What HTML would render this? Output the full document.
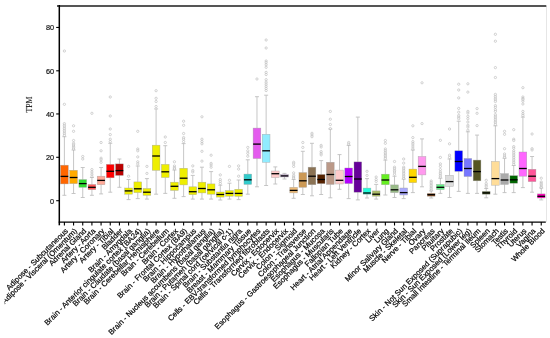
<!DOCTYPE html>
<html><head><meta charset="utf-8"><title>TPM boxplot</title>
<style>html,body{margin:0;padding:0;background:#fff}svg{display:block}text{font-family:"Liberation Sans",Arial,sans-serif}</style></head><body>
<svg width="550" height="338" viewBox="0 0 550 338">
<rect width="550" height="338" fill="#fff"/>
<line x1="546.5" y1="6" x2="546.5" y2="222" stroke="#e6e6e6" stroke-width="1"/>
<g stroke="#c0c0c0" stroke-width="0.9" fill="none"><path d="M64.40 136.7V165.2M64.40 183.9V195.3M62.40 136.7H66.40M62.40 195.3H66.40"/></g><g stroke="#a8a8a8" stroke-width="0.5" fill="#fff" fill-opacity="0.6"><circle cx="64.40" cy="51" r="1.15"/><circle cx="64.40" cy="104.3" r="1.15"/><circle cx="64.40" cy="123.6" r="1.15"/><circle cx="64.40" cy="125.3" r="1.15"/><circle cx="64.40" cy="127" r="1.15"/><circle cx="64.40" cy="128.7" r="1.15"/><circle cx="64.40" cy="130.4" r="1.15"/><circle cx="64.40" cy="132" r="1.15"/><circle cx="64.40" cy="133.7" r="1.15"/><circle cx="64.40" cy="135.4" r="1.15"/></g><rect x="60.55" y="165.2" width="7.7" height="18.7" fill="#FF6600" stroke="#999" stroke-opacity="0.7" stroke-width="0.5"/><line x1="60.55" y1="176.4" x2="68.25" y2="176.4" stroke="#000" stroke-width="1.3"/>
<g stroke="#c0c0c0" stroke-width="0.9" fill="none"><path d="M73.57 150V170.3M73.57 183.6V193.5M71.57 150H75.57M71.57 193.5H75.57"/></g><g stroke="#a8a8a8" stroke-width="0.5" fill="#fff" fill-opacity="0.6"><circle cx="73.57" cy="125.8" r="1.15"/><circle cx="73.57" cy="131.3" r="1.15"/><circle cx="73.57" cy="140.5" r="1.15"/><circle cx="73.57" cy="143.3" r="1.15"/><circle cx="73.57" cy="144.8" r="1.15"/><circle cx="73.57" cy="146.2" r="1.15"/><circle cx="73.57" cy="147.6" r="1.15"/><circle cx="73.57" cy="149" r="1.15"/></g><rect x="69.72" y="170.3" width="7.7" height="13.3" fill="#FFAA00" stroke="#999" stroke-opacity="0.7" stroke-width="0.5"/><line x1="69.72" y1="177.5" x2="77.42" y2="177.5" stroke="#000" stroke-width="1.3"/>
<g stroke="#c0c0c0" stroke-width="0.9" fill="none"><path d="M82.74 167.5V179.6M82.74 187.3V197.5M80.74 167.5H84.74M80.74 197.5H84.74"/></g><g stroke="#a8a8a8" stroke-width="0.5" fill="#fff" fill-opacity="0.6"><circle cx="82.74" cy="156.5" r="1.15"/><circle cx="82.74" cy="159" r="1.15"/></g><rect x="78.89" y="179.6" width="7.7" height="7.7" fill="#33DD33" stroke="#999" stroke-opacity="0.7" stroke-width="0.5"/><line x1="78.89" y1="183.6" x2="86.59" y2="183.6" stroke="#000" stroke-width="1.3"/>
<g stroke="#c0c0c0" stroke-width="0.9" fill="none"><path d="M91.91 177.5V184.5M91.91 189.6V195.3M89.91 177.5H93.91M89.91 195.3H93.91"/></g><g stroke="#a8a8a8" stroke-width="0.5" fill="#fff" fill-opacity="0.6"><circle cx="91.91" cy="113.3" r="1.15"/><circle cx="91.91" cy="169.6" r="1.15"/><circle cx="91.91" cy="172" r="1.15"/><circle cx="91.91" cy="174.2" r="1.15"/><circle cx="91.91" cy="176.2" r="1.15"/></g><rect x="88.06" y="184.5" width="7.7" height="5.1" fill="#FF5555" stroke="#999" stroke-opacity="0.7" stroke-width="0.5"/><line x1="88.06" y1="187.3" x2="95.76" y2="187.3" stroke="#000" stroke-width="1.3"/>
<g stroke="#c0c0c0" stroke-width="0.9" fill="none"><path d="M101.08 167.5V176.2M101.08 184.7V193.9M99.08 167.5H103.08M99.08 193.9H103.08"/></g><g stroke="#a8a8a8" stroke-width="0.5" fill="#fff" fill-opacity="0.6"><circle cx="101.08" cy="142.5" r="1.15"/><circle cx="101.08" cy="150.8" r="1.15"/><circle cx="101.08" cy="158.2" r="1.15"/><circle cx="101.08" cy="159.8" r="1.15"/><circle cx="101.08" cy="162.3" r="1.15"/></g><rect x="97.23" y="176.2" width="7.7" height="8.5" fill="#FFAA99" stroke="#999" stroke-opacity="0.7" stroke-width="0.5"/><line x1="97.23" y1="180.4" x2="104.93" y2="180.4" stroke="#000" stroke-width="1.3"/>
<g stroke="#c0c0c0" stroke-width="0.9" fill="none"><path d="M110.25 143.3V164.4M110.25 177.8V192.2M108.25 143.3H112.25M108.25 192.2H112.25"/></g><g stroke="#a8a8a8" stroke-width="0.5" fill="#fff" fill-opacity="0.6"><circle cx="110.25" cy="97" r="1.15"/><circle cx="110.25" cy="116" r="1.15"/><circle cx="110.25" cy="129" r="1.15"/><circle cx="110.25" cy="134.6" r="1.15"/><circle cx="110.25" cy="139.2" r="1.15"/><circle cx="110.25" cy="141.6" r="1.15"/></g><rect x="106.40" y="164.4" width="7.7" height="13.4" fill="#FF0000" stroke="#999" stroke-opacity="0.7" stroke-width="0.5"/><line x1="106.40" y1="171.3" x2="114.10" y2="171.3" stroke="#000" stroke-width="1.3"/>
<g stroke="#c0c0c0" stroke-width="0.9" fill="none"><path d="M119.42 159V163.9M119.42 175.4V187.3M117.42 159H121.42M117.42 187.3H121.42"/></g><rect x="115.57" y="163.9" width="7.7" height="11.5" fill="#BB0000" stroke="#999" stroke-opacity="0.7" stroke-width="0.5"/><line x1="115.57" y1="170.6" x2="123.27" y2="170.6" stroke="#000" stroke-width="1.3"/>
<g stroke="#c0c0c0" stroke-width="0.9" fill="none"><path d="M128.59 179.5V188M128.59 194.2V199.6M126.59 179.5H130.59M126.59 199.6H130.59"/></g><g stroke="#a8a8a8" stroke-width="0.5" fill="#fff" fill-opacity="0.6"><circle cx="128.59" cy="166.4" r="1.15"/><circle cx="128.59" cy="176.2" r="1.15"/></g><rect x="124.74" y="188" width="7.7" height="6.2" fill="#EEEE00" stroke="#999" stroke-opacity="0.7" stroke-width="0.5"/><line x1="124.74" y1="190.9" x2="132.44" y2="190.9" stroke="#000" stroke-width="1.3"/>
<g stroke="#c0c0c0" stroke-width="0.9" fill="none"><path d="M137.76 166V181.9M137.76 192.6V198.6M135.76 166H139.76M135.76 198.6H139.76"/></g><g stroke="#a8a8a8" stroke-width="0.5" fill="#fff" fill-opacity="0.6"><circle cx="137.76" cy="131.3" r="1.15"/><circle cx="137.76" cy="149" r="1.15"/><circle cx="137.76" cy="150.8" r="1.15"/><circle cx="137.76" cy="156.9" r="1.15"/><circle cx="137.76" cy="161.8" r="1.15"/><circle cx="137.76" cy="163.9" r="1.15"/></g><rect x="133.91" y="181.9" width="7.7" height="10.7" fill="#EEEE00" stroke="#999" stroke-opacity="0.7" stroke-width="0.5"/><line x1="133.91" y1="188.8" x2="141.61" y2="188.8" stroke="#000" stroke-width="1.3"/>
<g stroke="#c0c0c0" stroke-width="0.9" fill="none"><path d="M146.93 178.6V188.5M146.93 195.3V199.1M144.93 178.6H148.93M144.93 199.1H148.93"/></g><g stroke="#a8a8a8" stroke-width="0.5" fill="#fff" fill-opacity="0.6"><circle cx="146.93" cy="166.4" r="1.15"/><circle cx="146.93" cy="173.4" r="1.15"/></g><rect x="143.08" y="188.5" width="7.7" height="6.8" fill="#EEEE00" stroke="#999" stroke-opacity="0.7" stroke-width="0.5"/><line x1="143.08" y1="192.2" x2="150.78" y2="192.2" stroke="#000" stroke-width="1.3"/>
<g stroke="#c0c0c0" stroke-width="0.9" fill="none"><path d="M156.10 108.9V145.2M156.10 170.3V194.2M154.10 108.9H158.10M154.10 194.2H158.10"/></g><g stroke="#a8a8a8" stroke-width="0.5" fill="#fff" fill-opacity="0.6"><circle cx="156.10" cy="90.7" r="1.15"/><circle cx="156.10" cy="98.3" r="1.15"/><circle cx="156.10" cy="101.5" r="1.15"/><circle cx="156.10" cy="106.5" r="1.15"/></g><rect x="152.25" y="145.2" width="7.7" height="25.1" fill="#EEEE00" stroke="#999" stroke-opacity="0.7" stroke-width="0.5"/><line x1="152.25" y1="156" x2="159.95" y2="156" stroke="#000" stroke-width="1.3"/>
<g stroke="#c0c0c0" stroke-width="0.9" fill="none"><path d="M165.27 145.7V164.4M165.27 177.5V193.4M163.27 145.7H167.27M163.27 193.4H167.27"/></g><g stroke="#a8a8a8" stroke-width="0.5" fill="#fff" fill-opacity="0.6"><circle cx="165.27" cy="137" r="1.15"/><circle cx="165.27" cy="142.5" r="1.15"/></g><rect x="161.42" y="164.4" width="7.7" height="13.1" fill="#EEEE00" stroke="#999" stroke-opacity="0.7" stroke-width="0.5"/><line x1="161.42" y1="171.8" x2="169.12" y2="171.8" stroke="#000" stroke-width="1.3"/>
<g stroke="#c0c0c0" stroke-width="0.9" fill="none"><path d="M174.44 170V182.2M174.44 190.4V198.3M172.44 170H176.44M172.44 198.3H176.44"/></g><g stroke="#a8a8a8" stroke-width="0.5" fill="#fff" fill-opacity="0.6"><circle cx="174.44" cy="161.8" r="1.15"/><circle cx="174.44" cy="166" r="1.15"/><circle cx="174.44" cy="167.7" r="1.15"/><circle cx="174.44" cy="168.8" r="1.15"/></g><rect x="170.59" y="182.2" width="7.7" height="8.2" fill="#EEEE00" stroke="#999" stroke-opacity="0.7" stroke-width="0.5"/><line x1="170.59" y1="186.3" x2="178.29" y2="186.3" stroke="#000" stroke-width="1.3"/>
<g stroke="#c0c0c0" stroke-width="0.9" fill="none"><path d="M183.61 143.6V168.3M183.61 184.9V196.6M181.61 143.6H185.61M181.61 196.6H185.61"/></g><g stroke="#a8a8a8" stroke-width="0.5" fill="#fff" fill-opacity="0.6"><circle cx="183.61" cy="121.2" r="1.15"/><circle cx="183.61" cy="125.3" r="1.15"/><circle cx="183.61" cy="133.5" r="1.15"/><circle cx="183.61" cy="137.6" r="1.15"/><circle cx="183.61" cy="139.2" r="1.15"/><circle cx="183.61" cy="141.6" r="1.15"/></g><rect x="179.76" y="168.3" width="7.7" height="16.6" fill="#EEEE00" stroke="#999" stroke-opacity="0.7" stroke-width="0.5"/><line x1="179.76" y1="178.2" x2="187.46" y2="178.2" stroke="#000" stroke-width="1.3"/>
<g stroke="#c0c0c0" stroke-width="0.9" fill="none"><path d="M192.78 175.4V186.8M192.78 194.7V199.1M190.78 175.4H194.78M190.78 199.1H194.78"/></g><g stroke="#a8a8a8" stroke-width="0.5" fill="#fff" fill-opacity="0.6"><circle cx="192.78" cy="165.9" r="1.15"/><circle cx="192.78" cy="170.5" r="1.15"/><circle cx="192.78" cy="172" r="1.15"/></g><rect x="188.93" y="186.8" width="7.7" height="7.9" fill="#EEEE00" stroke="#999" stroke-opacity="0.7" stroke-width="0.5"/><line x1="188.93" y1="191.7" x2="196.63" y2="191.7" stroke="#000" stroke-width="1.3"/>
<g stroke="#c0c0c0" stroke-width="0.9" fill="none"><path d="M201.95 167.2V182.2M201.95 192.9V199.1M199.95 167.2H203.95M199.95 199.1H203.95"/></g><g stroke="#a8a8a8" stroke-width="0.5" fill="#fff" fill-opacity="0.6"><circle cx="201.95" cy="116.8" r="1.15"/><circle cx="201.95" cy="139.2" r="1.15"/><circle cx="201.95" cy="141.6" r="1.15"/><circle cx="201.95" cy="143.8" r="1.15"/><circle cx="201.95" cy="151.3" r="1.15"/><circle cx="201.95" cy="161.1" r="1.15"/></g><rect x="198.10" y="182.2" width="7.7" height="10.7" fill="#EEEE00" stroke="#999" stroke-opacity="0.7" stroke-width="0.5"/><line x1="198.10" y1="188.5" x2="205.80" y2="188.5" stroke="#000" stroke-width="1.3"/>
<g stroke="#c0c0c0" stroke-width="0.9" fill="none"><path d="M211.12 171.6V183.9M211.12 194.2V199.1M209.12 171.6H213.12M209.12 199.1H213.12"/></g><g stroke="#a8a8a8" stroke-width="0.5" fill="#fff" fill-opacity="0.6"><circle cx="211.12" cy="155.2" r="1.15"/><circle cx="211.12" cy="163.4" r="1.15"/><circle cx="211.12" cy="165" r="1.15"/><circle cx="211.12" cy="167.2" r="1.15"/></g><rect x="207.27" y="183.9" width="7.7" height="10.3" fill="#EEEE00" stroke="#999" stroke-opacity="0.7" stroke-width="0.5"/><line x1="207.27" y1="189.8" x2="214.97" y2="189.8" stroke="#000" stroke-width="1.3"/>
<g stroke="#c0c0c0" stroke-width="0.9" fill="none"><path d="M220.29 185.2V192M220.29 197.1V200M218.29 185.2H222.29M218.29 200H222.29"/></g><g stroke="#a8a8a8" stroke-width="0.5" fill="#fff" fill-opacity="0.6"><circle cx="220.29" cy="174.9" r="1.15"/><circle cx="220.29" cy="179.5" r="1.15"/><circle cx="220.29" cy="181.4" r="1.15"/><circle cx="220.29" cy="183.5" r="1.15"/></g><rect x="216.44" y="192" width="7.7" height="5.1" fill="#EEEE00" stroke="#999" stroke-opacity="0.7" stroke-width="0.5"/><line x1="216.44" y1="194.5" x2="224.14" y2="194.5" stroke="#000" stroke-width="1.3"/>
<g stroke="#c0c0c0" stroke-width="0.9" fill="none"><path d="M229.46 183.2V190.6M229.46 196.2V199.1M227.46 183.2H231.46M227.46 199.1H231.46"/></g><g stroke="#a8a8a8" stroke-width="0.5" fill="#fff" fill-opacity="0.6"><circle cx="229.46" cy="166.4" r="1.15"/><circle cx="229.46" cy="180.3" r="1.15"/></g><rect x="225.61" y="190.6" width="7.7" height="5.6" fill="#EEEE00" stroke="#999" stroke-opacity="0.7" stroke-width="0.5"/><line x1="225.61" y1="193.4" x2="233.31" y2="193.4" stroke="#000" stroke-width="1.3"/>
<g stroke="#c0c0c0" stroke-width="0.9" fill="none"><path d="M238.63 180V189.3M238.63 196.3V199.6M236.63 180H240.63M236.63 199.6H240.63"/></g><g stroke="#a8a8a8" stroke-width="0.5" fill="#fff" fill-opacity="0.6"><circle cx="238.63" cy="165.9" r="1.15"/><circle cx="238.63" cy="169.1" r="1.15"/><circle cx="238.63" cy="176.2" r="1.15"/></g><rect x="234.78" y="189.3" width="7.7" height="7.0" fill="#EEEE00" stroke="#999" stroke-opacity="0.7" stroke-width="0.5"/><line x1="234.78" y1="193.4" x2="242.48" y2="193.4" stroke="#000" stroke-width="1.3"/>
<g stroke="#c0c0c0" stroke-width="0.9" fill="none"><path d="M247.80 159.8V174.1M247.80 184.4V194.2M245.80 159.8H249.80M245.80 194.2H249.80"/></g><g stroke="#a8a8a8" stroke-width="0.5" fill="#fff" fill-opacity="0.6"><circle cx="247.80" cy="147.4" r="1.15"/><circle cx="247.80" cy="150.8" r="1.15"/><circle cx="247.80" cy="153.3" r="1.15"/><circle cx="247.80" cy="156.2" r="1.15"/></g><rect x="243.95" y="174.1" width="7.7" height="10.3" fill="#33CCCC" stroke="#999" stroke-opacity="0.7" stroke-width="0.5"/><line x1="243.95" y1="179.8" x2="251.65" y2="179.8" stroke="#000" stroke-width="1.3"/>
<g stroke="#c0c0c0" stroke-width="0.9" fill="none"><path d="M256.97 96.7V128.1M256.97 158.5V186.8M254.97 96.7H258.97M254.97 186.8H258.97"/></g><g stroke="#a8a8a8" stroke-width="0.5" fill="#fff" fill-opacity="0.6"><circle cx="256.97" cy="79" r="1.15"/></g><rect x="253.12" y="128.1" width="7.7" height="30.4" fill="#E45CEE" stroke="#999" stroke-opacity="0.7" stroke-width="0.5"/><line x1="253.12" y1="144.1" x2="260.82" y2="144.1" stroke="#000" stroke-width="1.3"/>
<g stroke="#c0c0c0" stroke-width="0.9" fill="none"><path d="M266.14 95.2V134.3M266.14 162.3V185.5M264.14 95.2H268.14M264.14 185.5H268.14"/></g><g stroke="#a8a8a8" stroke-width="0.5" fill="#fff" fill-opacity="0.6"><circle cx="266.14" cy="40" r="1.15"/><circle cx="266.14" cy="48" r="1.15"/><circle cx="266.14" cy="61" r="1.15"/><circle cx="266.14" cy="62.7" r="1.15"/><circle cx="266.14" cy="64.8" r="1.15"/><circle cx="266.14" cy="67.3" r="1.15"/><circle cx="266.14" cy="72.4" r="1.15"/><circle cx="266.14" cy="74.5" r="1.15"/><circle cx="266.14" cy="79.7" r="1.15"/><circle cx="266.14" cy="82.2" r="1.15"/><circle cx="266.14" cy="84.2" r="1.15"/><circle cx="266.14" cy="86.3" r="1.15"/><circle cx="266.14" cy="88.4" r="1.15"/><circle cx="266.14" cy="90.5" r="1.15"/></g><rect x="262.29" y="134.3" width="7.7" height="28.0" fill="#90ECFF" stroke="#999" stroke-opacity="0.7" stroke-width="0.5"/><line x1="262.29" y1="150.8" x2="269.99" y2="150.8" stroke="#000" stroke-width="1.3"/>
<g stroke="#c0c0c0" stroke-width="0.9" fill="none"><path d="M275.31 166.9V171M275.31 177.5V184M273.31 166.9H277.31M273.31 184H277.31"/></g><rect x="271.46" y="171" width="7.7" height="6.5" fill="#FFCCCC" stroke="#999" stroke-opacity="0.7" stroke-width="0.5"/><line x1="271.46" y1="173.7" x2="279.16" y2="173.7" stroke="#000" stroke-width="1.3"/>
<g stroke="#c0c0c0" stroke-width="0.9" fill="none"><path d="M284.48 173.4V174.5M284.48 177V179M282.48 173.4H286.48M282.48 179H286.48"/></g><rect x="280.63" y="174.5" width="7.7" height="2.5" fill="#CCAADD" stroke="#999" stroke-opacity="0.7" stroke-width="0.5"/><line x1="280.63" y1="175.9" x2="288.33" y2="175.9" stroke="#000" stroke-width="1.3"/>
<g stroke="#c0c0c0" stroke-width="0.9" fill="none"><path d="M293.65 179.5V187.3M293.65 192.9V198.3M291.65 179.5H295.65M291.65 198.3H295.65"/></g><g stroke="#a8a8a8" stroke-width="0.5" fill="#fff" fill-opacity="0.6"><circle cx="293.65" cy="162.3" r="1.15"/><circle cx="293.65" cy="163.9" r="1.15"/><circle cx="293.65" cy="166.4" r="1.15"/><circle cx="293.65" cy="172.9" r="1.15"/><circle cx="293.65" cy="175.4" r="1.15"/><circle cx="293.65" cy="177" r="1.15"/><circle cx="293.65" cy="178.2" r="1.15"/></g><rect x="289.80" y="187.3" width="7.7" height="5.6" fill="#EEBB77" stroke="#999" stroke-opacity="0.7" stroke-width="0.5"/><line x1="289.80" y1="190.4" x2="297.50" y2="190.4" stroke="#000" stroke-width="1.3"/>
<g stroke="#c0c0c0" stroke-width="0.9" fill="none"><path d="M302.82 151.3V172.6M302.82 187.3V194.5M300.82 151.3H304.82M300.82 194.5H304.82"/></g><g stroke="#a8a8a8" stroke-width="0.5" fill="#fff" fill-opacity="0.6"><circle cx="302.82" cy="142.5" r="1.15"/><circle cx="302.82" cy="147.4" r="1.15"/></g><rect x="298.97" y="172.6" width="7.7" height="14.7" fill="#CC9955" stroke="#999" stroke-opacity="0.7" stroke-width="0.5"/><line x1="298.97" y1="180.8" x2="306.67" y2="180.8" stroke="#000" stroke-width="1.3"/>
<g stroke="#c0c0c0" stroke-width="0.9" fill="none"><path d="M311.99 143.3V167.2M311.99 184.7V195.8M309.99 143.3H313.99M309.99 195.8H313.99"/></g><g stroke="#a8a8a8" stroke-width="0.5" fill="#fff" fill-opacity="0.6"><circle cx="311.99" cy="133.3" r="1.15"/><circle cx="311.99" cy="135" r="1.15"/><circle cx="311.99" cy="136.7" r="1.15"/></g><rect x="308.14" y="167.2" width="7.7" height="17.5" fill="#8B7355" stroke="#999" stroke-opacity="0.7" stroke-width="0.5"/><line x1="308.14" y1="176.2" x2="315.84" y2="176.2" stroke="#000" stroke-width="1.3"/>
<g stroke="#c0c0c0" stroke-width="0.9" fill="none"><path d="M321.16 160.6V174.5M321.16 183.6V194.5M319.16 160.6H323.16M319.16 194.5H323.16"/></g><g stroke="#a8a8a8" stroke-width="0.5" fill="#fff" fill-opacity="0.6"><circle cx="321.16" cy="145.4" r="1.15"/><circle cx="321.16" cy="147" r="1.15"/><circle cx="321.16" cy="151.6" r="1.15"/><circle cx="321.16" cy="153.3" r="1.15"/><circle cx="321.16" cy="154.9" r="1.15"/></g><rect x="317.31" y="174.5" width="7.7" height="9.1" fill="#552200" stroke="#999" stroke-opacity="0.7" stroke-width="0.5"/><line x1="317.31" y1="179.5" x2="325.01" y2="179.5" stroke="#000" stroke-width="1.3"/>
<g stroke="#c0c0c0" stroke-width="0.9" fill="none"><path d="M330.33 129V162.3M330.33 184.4V197.8M328.33 129H332.33M328.33 197.8H332.33"/></g><g stroke="#a8a8a8" stroke-width="0.5" fill="#fff" fill-opacity="0.6"><circle cx="330.33" cy="111.4" r="1.15"/><circle cx="330.33" cy="119.2" r="1.15"/><circle cx="330.33" cy="124.5" r="1.15"/><circle cx="330.33" cy="128.6" r="1.15"/></g><rect x="326.48" y="162.3" width="7.7" height="22.1" fill="#BB9988" stroke="#999" stroke-opacity="0.7" stroke-width="0.5"/><line x1="326.48" y1="174.5" x2="334.18" y2="174.5" stroke="#000" stroke-width="1.3"/>
<g stroke="#c0c0c0" stroke-width="0.9" fill="none"><path d="M339.50 154.6V170.1M339.50 184V189.3M337.50 154.6H341.50M337.50 189.3H341.50"/></g><rect x="335.65" y="170.1" width="7.7" height="13.9" fill="#FFCCCC" stroke="#999" stroke-opacity="0.7" stroke-width="0.5"/><line x1="335.65" y1="180.3" x2="343.35" y2="180.3" stroke="#000" stroke-width="1.3"/>
<g stroke="#c0c0c0" stroke-width="0.9" fill="none"><path d="M348.67 145.4V168M348.67 183.6V198.6M346.67 145.4H350.67M346.67 198.6H350.67"/></g><g stroke="#a8a8a8" stroke-width="0.5" fill="#fff" fill-opacity="0.6"><circle cx="348.67" cy="142.5" r="1.15"/><circle cx="348.67" cy="144.1" r="1.15"/></g><rect x="344.82" y="168" width="7.7" height="15.6" fill="#B400FF" stroke="#999" stroke-opacity="0.7" stroke-width="0.5"/><line x1="344.82" y1="176.5" x2="352.52" y2="176.5" stroke="#000" stroke-width="1.3"/>
<g stroke="#c0c0c0" stroke-width="0.9" fill="none"><path d="M357.84 117.1V161.9M357.84 192.2V199.9M355.84 117.1H359.84M355.84 199.9H359.84"/></g><rect x="353.99" y="161.9" width="7.7" height="30.3" fill="#660099" stroke="#999" stroke-opacity="0.7" stroke-width="0.5"/><line x1="353.99" y1="179" x2="361.69" y2="179" stroke="#000" stroke-width="1.3"/>
<g stroke="#c0c0c0" stroke-width="0.9" fill="none"><path d="M367.01 178.6V188.1M367.01 194.2V198M365.01 178.6H369.01M365.01 198H369.01"/></g><g stroke="#a8a8a8" stroke-width="0.5" fill="#fff" fill-opacity="0.6"><circle cx="367.01" cy="171.3" r="1.15"/><circle cx="367.01" cy="175.4" r="1.15"/></g><rect x="363.16" y="188.1" width="7.7" height="6.1" fill="#22FFDD" stroke="#999" stroke-opacity="0.7" stroke-width="0.5"/><line x1="363.16" y1="193" x2="370.86" y2="193" stroke="#000" stroke-width="1.3"/>
<g stroke="#c0c0c0" stroke-width="0.9" fill="none"><path d="M376.18 184.4V190.9M376.18 196.2V199.1M374.18 184.4H378.18M374.18 199.1H378.18"/></g><g stroke="#a8a8a8" stroke-width="0.5" fill="#fff" fill-opacity="0.6"><circle cx="376.18" cy="177" r="1.15"/><circle cx="376.18" cy="179.5" r="1.15"/><circle cx="376.18" cy="181.4" r="1.15"/></g><rect x="372.33" y="190.9" width="7.7" height="5.3" fill="#AABB66" stroke="#999" stroke-opacity="0.7" stroke-width="0.5"/><line x1="372.33" y1="194.2" x2="380.03" y2="194.2" stroke="#000" stroke-width="1.3"/>
<g stroke="#c0c0c0" stroke-width="0.9" fill="none"><path d="M385.35 160.1V174.2M385.35 184.7V195M383.35 160.1H387.35M383.35 195H387.35"/></g><g stroke="#a8a8a8" stroke-width="0.5" fill="#fff" fill-opacity="0.6"><circle cx="385.35" cy="140.5" r="1.15"/><circle cx="385.35" cy="143.3" r="1.15"/><circle cx="385.35" cy="149" r="1.15"/><circle cx="385.35" cy="150.8" r="1.15"/><circle cx="385.35" cy="152.5" r="1.15"/><circle cx="385.35" cy="154" r="1.15"/><circle cx="385.35" cy="155.5" r="1.15"/><circle cx="385.35" cy="157" r="1.15"/><circle cx="385.35" cy="158.5" r="1.15"/></g><rect x="381.50" y="174.2" width="7.7" height="10.5" fill="#66EE22" stroke="#999" stroke-opacity="0.7" stroke-width="0.5"/><line x1="381.50" y1="180" x2="389.20" y2="180" stroke="#000" stroke-width="1.3"/>
<g stroke="#c0c0c0" stroke-width="0.9" fill="none"><path d="M394.52 176.2V184.9M394.52 192.6V197.5M392.52 176.2H396.52M392.52 197.5H396.52"/></g><g stroke="#a8a8a8" stroke-width="0.5" fill="#fff" fill-opacity="0.6"><circle cx="394.52" cy="161.5" r="1.15"/><circle cx="394.52" cy="167.2" r="1.15"/><circle cx="394.52" cy="168.8" r="1.15"/><circle cx="394.52" cy="170.5" r="1.15"/><circle cx="394.52" cy="172" r="1.15"/><circle cx="394.52" cy="174.2" r="1.15"/></g><rect x="390.67" y="184.9" width="7.7" height="7.7" fill="#99BB88" stroke="#999" stroke-opacity="0.7" stroke-width="0.5"/><line x1="390.67" y1="189.8" x2="398.37" y2="189.8" stroke="#000" stroke-width="1.3"/>
<g stroke="#c0c0c0" stroke-width="0.9" fill="none"><path d="M403.69 179.1V188M403.69 195V198.6M401.69 179.1H405.69M401.69 198.6H405.69"/></g><g stroke="#a8a8a8" stroke-width="0.5" fill="#fff" fill-opacity="0.6"><circle cx="403.69" cy="159" r="1.15"/><circle cx="403.69" cy="163.1" r="1.15"/><circle cx="403.69" cy="167.2" r="1.15"/><circle cx="403.69" cy="168.8" r="1.15"/><circle cx="403.69" cy="170.4" r="1.15"/><circle cx="403.69" cy="172" r="1.15"/><circle cx="403.69" cy="173.6" r="1.15"/><circle cx="403.69" cy="175.2" r="1.15"/><circle cx="403.69" cy="176.8" r="1.15"/><circle cx="403.69" cy="178.4" r="1.15"/></g><rect x="399.84" y="188" width="7.7" height="7.0" fill="#AAAAFF" stroke="#999" stroke-opacity="0.7" stroke-width="0.5"/><line x1="399.84" y1="192.6" x2="407.54" y2="192.6" stroke="#000" stroke-width="1.3"/>
<g stroke="#c0c0c0" stroke-width="0.9" fill="none"><path d="M412.86 150V169.1M412.86 182.7V192.6M410.86 150H414.86M410.86 192.6H414.86"/></g><g stroke="#a8a8a8" stroke-width="0.5" fill="#fff" fill-opacity="0.6"><circle cx="412.86" cy="125.8" r="1.15"/><circle cx="412.86" cy="137.6" r="1.15"/><circle cx="412.86" cy="141.6" r="1.15"/><circle cx="412.86" cy="143.3" r="1.15"/><circle cx="412.86" cy="145" r="1.15"/><circle cx="412.86" cy="147" r="1.15"/><circle cx="412.86" cy="149" r="1.15"/></g><rect x="409.01" y="169.1" width="7.7" height="13.6" fill="#FFD700" stroke="#999" stroke-opacity="0.7" stroke-width="0.5"/><line x1="409.01" y1="177.3" x2="416.71" y2="177.3" stroke="#000" stroke-width="1.3"/>
<g stroke="#c0c0c0" stroke-width="0.9" fill="none"><path d="M422.03 138.9V156.5M422.03 174.9V186.8M420.03 138.9H424.03M420.03 186.8H424.03"/></g><g stroke="#a8a8a8" stroke-width="0.5" fill="#fff" fill-opacity="0.6"><circle cx="422.03" cy="82.8" r="1.15"/><circle cx="422.03" cy="123.6" r="1.15"/></g><rect x="418.18" y="156.5" width="7.7" height="18.4" fill="#FF99EE" stroke="#999" stroke-opacity="0.7" stroke-width="0.5"/><line x1="418.18" y1="166.4" x2="425.88" y2="166.4" stroke="#000" stroke-width="1.3"/>
<g stroke="#c0c0c0" stroke-width="0.9" fill="none"><path d="M431.20 190.9V193.4M431.20 196.2V198M429.20 190.9H433.20M429.20 198H433.20"/></g><g stroke="#a8a8a8" stroke-width="0.5" fill="#fff" fill-opacity="0.6"><circle cx="431.20" cy="181" r="1.15"/><circle cx="431.20" cy="182.5" r="1.15"/><circle cx="431.20" cy="184" r="1.15"/><circle cx="431.20" cy="185.5" r="1.15"/><circle cx="431.20" cy="187" r="1.15"/><circle cx="431.20" cy="188.5" r="1.15"/><circle cx="431.20" cy="190" r="1.15"/></g><rect x="427.35" y="193.4" width="7.7" height="2.8" fill="#995522" stroke="#999" stroke-opacity="0.7" stroke-width="0.5"/><line x1="427.35" y1="194.7" x2="435.05" y2="194.7" stroke="#000" stroke-width="1.3"/>
<g stroke="#c0c0c0" stroke-width="0.9" fill="none"><path d="M440.37 178.2V184.4M440.37 189.6V193.4M438.37 178.2H442.37M438.37 193.4H442.37"/></g><g stroke="#a8a8a8" stroke-width="0.5" fill="#fff" fill-opacity="0.6"><circle cx="440.37" cy="140.3" r="1.15"/><circle cx="440.37" cy="157.4" r="1.15"/><circle cx="440.37" cy="163.9" r="1.15"/><circle cx="440.37" cy="166.4" r="1.15"/><circle cx="440.37" cy="169.6" r="1.15"/><circle cx="440.37" cy="172.1" r="1.15"/><circle cx="440.37" cy="173.7" r="1.15"/><circle cx="440.37" cy="175.4" r="1.15"/><circle cx="440.37" cy="177" r="1.15"/></g><rect x="436.52" y="184.4" width="7.7" height="5.2" fill="#66EE88" stroke="#999" stroke-opacity="0.7" stroke-width="0.5"/><line x1="436.52" y1="187.3" x2="444.22" y2="187.3" stroke="#000" stroke-width="1.3"/>
<g stroke="#c0c0c0" stroke-width="0.9" fill="none"><path d="M449.54 159V175.4M449.54 186.3V197.5M447.54 159H451.54M447.54 197.5H451.54"/></g><g stroke="#a8a8a8" stroke-width="0.5" fill="#fff" fill-opacity="0.6"><circle cx="449.54" cy="129" r="1.15"/><circle cx="449.54" cy="143.8" r="1.15"/><circle cx="449.54" cy="155.2" r="1.15"/><circle cx="449.54" cy="157.4" r="1.15"/></g><rect x="445.69" y="175.4" width="7.7" height="10.9" fill="#DDDDDD" stroke="#999" stroke-opacity="0.7" stroke-width="0.5"/><line x1="445.69" y1="181.6" x2="453.39" y2="181.6" stroke="#000" stroke-width="1.3"/>
<g stroke="#c0c0c0" stroke-width="0.9" fill="none"><path d="M458.71 121.2V150.8M458.71 171.3V191.4M456.71 121.2H460.71M456.71 191.4H460.71"/></g><g stroke="#a8a8a8" stroke-width="0.5" fill="#fff" fill-opacity="0.6"><circle cx="458.71" cy="84.2" r="1.15"/><circle cx="458.71" cy="90" r="1.15"/><circle cx="458.71" cy="97.9" r="1.15"/><circle cx="458.71" cy="108.4" r="1.15"/><circle cx="458.71" cy="112.2" r="1.15"/><circle cx="458.71" cy="115.5" r="1.15"/><circle cx="458.71" cy="117.1" r="1.15"/><circle cx="458.71" cy="118.7" r="1.15"/></g><rect x="454.86" y="150.8" width="7.7" height="20.5" fill="#0000FF" stroke="#999" stroke-opacity="0.7" stroke-width="0.5"/><line x1="454.86" y1="161.5" x2="462.56" y2="161.5" stroke="#000" stroke-width="1.3"/>
<g stroke="#c0c0c0" stroke-width="0.9" fill="none"><path d="M467.88 131.8V158.5M467.88 176.5V193.4M465.88 131.8H469.88M465.88 193.4H469.88"/></g><g stroke="#a8a8a8" stroke-width="0.5" fill="#fff" fill-opacity="0.6"><circle cx="467.88" cy="83.8" r="1.15"/><circle cx="467.88" cy="92.1" r="1.15"/><circle cx="467.88" cy="111.4" r="1.15"/><circle cx="467.88" cy="113" r="1.15"/><circle cx="467.88" cy="116.3" r="1.15"/><circle cx="467.88" cy="118.7" r="1.15"/><circle cx="467.88" cy="122" r="1.15"/><circle cx="467.88" cy="125.3" r="1.15"/><circle cx="467.88" cy="127" r="1.15"/><circle cx="467.88" cy="130.2" r="1.15"/></g><rect x="464.03" y="158.5" width="7.7" height="18.0" fill="#7777FF" stroke="#999" stroke-opacity="0.7" stroke-width="0.5"/><line x1="464.03" y1="168.5" x2="471.73" y2="168.5" stroke="#000" stroke-width="1.3"/>
<g stroke="#c0c0c0" stroke-width="0.9" fill="none"><path d="M477.05 135.1V160.1M477.05 180.8V193.4M475.05 135.1H479.05M475.05 193.4H479.05"/></g><g stroke="#a8a8a8" stroke-width="0.5" fill="#fff" fill-opacity="0.6"><circle cx="477.05" cy="108.6" r="1.15"/><circle cx="477.05" cy="113.3" r="1.15"/><circle cx="477.05" cy="125.6" r="1.15"/></g><rect x="473.20" y="160.1" width="7.7" height="20.7" fill="#555522" stroke="#999" stroke-opacity="0.7" stroke-width="0.5"/><line x1="473.20" y1="171.6" x2="480.90" y2="171.6" stroke="#000" stroke-width="1.3"/>
<g stroke="#c0c0c0" stroke-width="0.9" fill="none"><path d="M486.22 188.5V191.4M486.22 194.2V197.8M484.22 188.5H488.22M484.22 197.8H488.22"/></g><g stroke="#a8a8a8" stroke-width="0.5" fill="#fff" fill-opacity="0.6"><circle cx="486.22" cy="180.3" r="1.15"/><circle cx="486.22" cy="183.5" r="1.15"/><circle cx="486.22" cy="185.2" r="1.15"/><circle cx="486.22" cy="186.8" r="1.15"/></g><rect x="482.37" y="191.4" width="7.7" height="2.8" fill="#445522" stroke="#999" stroke-opacity="0.7" stroke-width="0.5"/><line x1="482.37" y1="192.9" x2="490.07" y2="192.9" stroke="#000" stroke-width="1.3"/>
<g stroke="#c0c0c0" stroke-width="0.9" fill="none"><path d="M495.39 125.8V161.5M495.39 185.2V194.2M493.39 125.8H497.39M493.39 194.2H497.39"/></g><g stroke="#a8a8a8" stroke-width="0.5" fill="#fff" fill-opacity="0.6"><circle cx="495.39" cy="34.3" r="1.15"/><circle cx="495.39" cy="41.2" r="1.15"/><circle cx="495.39" cy="67.6" r="1.15"/><circle cx="495.39" cy="77.5" r="1.15"/><circle cx="495.39" cy="94.4" r="1.15"/><circle cx="495.39" cy="96.4" r="1.15"/><circle cx="495.39" cy="98.2" r="1.15"/><circle cx="495.39" cy="99.9" r="1.15"/><circle cx="495.39" cy="101.5" r="1.15"/><circle cx="495.39" cy="105.6" r="1.15"/><circle cx="495.39" cy="107.3" r="1.15"/><circle cx="495.39" cy="109.7" r="1.15"/><circle cx="495.39" cy="111.4" r="1.15"/><circle cx="495.39" cy="114.6" r="1.15"/><circle cx="495.39" cy="116.2" r="1.15"/><circle cx="495.39" cy="117.9" r="1.15"/><circle cx="495.39" cy="119.5" r="1.15"/><circle cx="495.39" cy="121.2" r="1.15"/><circle cx="495.39" cy="122.8" r="1.15"/><circle cx="495.39" cy="124.5" r="1.15"/></g><rect x="491.54" y="161.5" width="7.7" height="23.7" fill="#FFDD99" stroke="#999" stroke-opacity="0.7" stroke-width="0.5"/><line x1="491.54" y1="178.6" x2="499.24" y2="178.6" stroke="#000" stroke-width="1.3"/>
<g stroke="#c0c0c0" stroke-width="0.9" fill="none"><path d="M504.56 158.2V173.7M504.56 184.4V192.6M502.56 158.2H506.56M502.56 192.6H506.56"/></g><g stroke="#a8a8a8" stroke-width="0.5" fill="#fff" fill-opacity="0.6"><circle cx="504.56" cy="131.3" r="1.15"/><circle cx="504.56" cy="134.3" r="1.15"/><circle cx="504.56" cy="148.7" r="1.15"/><circle cx="504.56" cy="154" r="1.15"/><circle cx="504.56" cy="156" r="1.15"/><circle cx="504.56" cy="157.5" r="1.15"/></g><rect x="500.71" y="173.7" width="7.7" height="10.7" fill="#AAAAAA" stroke="#999" stroke-opacity="0.7" stroke-width="0.5"/><line x1="500.71" y1="180" x2="508.41" y2="180" stroke="#000" stroke-width="1.3"/>
<g stroke="#c0c0c0" stroke-width="0.9" fill="none"><path d="M513.73 165.5V175.7M513.73 183.2V192.6M511.73 165.5H515.73M511.73 192.6H515.73"/></g><g stroke="#a8a8a8" stroke-width="0.5" fill="#fff" fill-opacity="0.6"><circle cx="513.73" cy="129.7" r="1.15"/><circle cx="513.73" cy="139.2" r="1.15"/><circle cx="513.73" cy="140.5" r="1.15"/><circle cx="513.73" cy="146.6" r="1.15"/><circle cx="513.73" cy="148.2" r="1.15"/><circle cx="513.73" cy="150.8" r="1.15"/><circle cx="513.73" cy="152.5" r="1.15"/><circle cx="513.73" cy="154.2" r="1.15"/><circle cx="513.73" cy="155.9" r="1.15"/><circle cx="513.73" cy="157.6" r="1.15"/><circle cx="513.73" cy="159.3" r="1.15"/><circle cx="513.73" cy="161" r="1.15"/><circle cx="513.73" cy="162.7" r="1.15"/><circle cx="513.73" cy="164.4" r="1.15"/></g><rect x="509.88" y="175.7" width="7.7" height="7.5" fill="#006600" stroke="#999" stroke-opacity="0.7" stroke-width="0.5"/><line x1="509.88" y1="179.8" x2="517.58" y2="179.8" stroke="#000" stroke-width="1.3"/>
<g stroke="#c0c0c0" stroke-width="0.9" fill="none"><path d="M522.90 117.1V152M522.90 176.2V187.6M520.90 117.1H524.90M520.90 187.6H524.90"/></g><g stroke="#a8a8a8" stroke-width="0.5" fill="#fff" fill-opacity="0.6"><circle cx="522.90" cy="87.7" r="1.15"/><circle cx="522.90" cy="97" r="1.15"/><circle cx="522.90" cy="98.5" r="1.15"/><circle cx="522.90" cy="99.5" r="1.15"/><circle cx="522.90" cy="101.2" r="1.15"/><circle cx="522.90" cy="104" r="1.15"/><circle cx="522.90" cy="111.4" r="1.15"/><circle cx="522.90" cy="113.8" r="1.15"/><circle cx="522.90" cy="115.5" r="1.15"/></g><rect x="519.05" y="152" width="7.7" height="24.2" fill="#FF66FF" stroke="#999" stroke-opacity="0.7" stroke-width="0.5"/><line x1="519.05" y1="168.5" x2="526.75" y2="168.5" stroke="#000" stroke-width="1.3"/>
<g stroke="#c0c0c0" stroke-width="0.9" fill="none"><path d="M532.07 156.5V169.3M532.07 181.6V192.2M530.07 156.5H534.07M530.07 192.2H534.07"/></g><g stroke="#a8a8a8" stroke-width="0.5" fill="#fff" fill-opacity="0.6"><circle cx="532.07" cy="134" r="1.15"/><circle cx="532.07" cy="148.7" r="1.15"/><circle cx="532.07" cy="150" r="1.15"/></g><rect x="528.22" y="169.3" width="7.7" height="12.3" fill="#FF5599" stroke="#999" stroke-opacity="0.7" stroke-width="0.5"/><line x1="528.22" y1="176.2" x2="535.92" y2="176.2" stroke="#000" stroke-width="1.3"/>
<g stroke="#c0c0c0" stroke-width="0.9" fill="none"><path d="M541.24 188V193.9M541.24 198V199.9M539.24 188H543.24M539.24 199.9H543.24"/></g><g stroke="#a8a8a8" stroke-width="0.5" fill="#fff" fill-opacity="0.6"><circle cx="541.24" cy="178.2" r="1.15"/><circle cx="541.24" cy="182" r="1.15"/><circle cx="541.24" cy="183.4" r="1.15"/><circle cx="541.24" cy="184.8" r="1.15"/><circle cx="541.24" cy="186.2" r="1.15"/><circle cx="541.24" cy="187.6" r="1.15"/></g><rect x="537.39" y="193.9" width="7.7" height="4.1" fill="#FF00BB" stroke="#999" stroke-opacity="0.7" stroke-width="0.5"/><line x1="537.39" y1="196.3" x2="545.09" y2="196.3" stroke="#000" stroke-width="1.3"/>
<line x1="57" y1="6" x2="546.3" y2="6" stroke="#555" stroke-width="2"/>
<line x1="59.3" y1="5" x2="59.3" y2="225.3" stroke="#000" stroke-width="1.5"/>
<line x1="58.7" y1="222.1" x2="545.8" y2="222.1" stroke="#000" stroke-width="1.4"/>
<line x1="56.2" y1="200.7" x2="59" y2="200.7" stroke="#000" stroke-width="1.1"/>
<text x="54" y="203.55" font-size="7.9" text-anchor="end" textLength="4.05" lengthAdjust="spacingAndGlyphs" fill="#111" stroke="#111" stroke-width="0.2">0</text>
<line x1="56.2" y1="157.3" x2="59" y2="157.3" stroke="#000" stroke-width="1.1"/>
<text x="54" y="160.15" font-size="7.9" text-anchor="end" textLength="8.1" lengthAdjust="spacingAndGlyphs" fill="#111" stroke="#111" stroke-width="0.2">20</text>
<line x1="56.2" y1="113.95" x2="59" y2="113.95" stroke="#000" stroke-width="1.1"/>
<text x="54" y="116.80" font-size="7.9" text-anchor="end" textLength="8.1" lengthAdjust="spacingAndGlyphs" fill="#111" stroke="#111" stroke-width="0.2">40</text>
<line x1="56.2" y1="70.8" x2="59" y2="70.8" stroke="#000" stroke-width="1.1"/>
<text x="54" y="73.65" font-size="7.9" text-anchor="end" textLength="8.1" lengthAdjust="spacingAndGlyphs" fill="#111" stroke="#111" stroke-width="0.2">60</text>
<line x1="56.2" y1="27.45" x2="59" y2="27.45" stroke="#000" stroke-width="1.1"/>
<text x="54" y="30.30" font-size="7.9" text-anchor="end" textLength="8.1" lengthAdjust="spacingAndGlyphs" fill="#111" stroke="#111" stroke-width="0.2">80</text>
<defs><clipPath id="lc"><rect x="4.6" y="222" width="546" height="116"/></clipPath></defs><g clip-path="url(#lc)">
<line x1="64.40" y1="222" x2="64.40" y2="225.4" stroke="#000" stroke-width="1.1"/>
<text transform="translate(68.40 231.50) rotate(-45)" font-size="7.7" text-anchor="end" fill="#000" stroke="#000" stroke-width="0.2">Adipose - Subcutaneous</text>
<line x1="73.57" y1="222" x2="73.57" y2="225.4" stroke="#000" stroke-width="1.1"/>
<text transform="translate(77.57 231.50) rotate(-45)" font-size="7.7" text-anchor="end" fill="#000" stroke="#000" stroke-width="0.2">Adipose - Visceral (Omentum)</text>
<line x1="82.74" y1="222" x2="82.74" y2="225.4" stroke="#000" stroke-width="1.1"/>
<text transform="translate(86.74 231.50) rotate(-45)" font-size="7.7" text-anchor="end" fill="#000" stroke="#000" stroke-width="0.2">Adrenal Gland</text>
<line x1="91.91" y1="222" x2="91.91" y2="225.4" stroke="#000" stroke-width="1.1"/>
<text transform="translate(95.91 231.50) rotate(-45)" font-size="7.7" text-anchor="end" fill="#000" stroke="#000" stroke-width="0.2">Artery - Aorta</text>
<line x1="101.08" y1="222" x2="101.08" y2="225.4" stroke="#000" stroke-width="1.1"/>
<text transform="translate(105.08 231.50) rotate(-45)" font-size="7.7" text-anchor="end" fill="#000" stroke="#000" stroke-width="0.2">Artery - Coronary</text>
<line x1="110.25" y1="222" x2="110.25" y2="225.4" stroke="#000" stroke-width="1.1"/>
<text transform="translate(114.25 231.50) rotate(-45)" font-size="7.7" text-anchor="end" fill="#000" stroke="#000" stroke-width="0.2">Artery - Tibial</text>
<line x1="119.42" y1="222" x2="119.42" y2="225.4" stroke="#000" stroke-width="1.1"/>
<text transform="translate(123.42 231.50) rotate(-45)" font-size="7.7" text-anchor="end" fill="#000" stroke="#000" stroke-width="0.2">Bladder</text>
<line x1="128.59" y1="222" x2="128.59" y2="225.4" stroke="#000" stroke-width="1.1"/>
<text transform="translate(132.59 231.50) rotate(-45)" font-size="7.7" text-anchor="end" fill="#000" stroke="#000" stroke-width="0.2">Brain - Amygdala</text>
<line x1="137.76" y1="222" x2="137.76" y2="225.4" stroke="#000" stroke-width="1.1"/>
<text transform="translate(141.76 231.50) rotate(-45)" font-size="7.7" text-anchor="end" fill="#000" stroke="#000" stroke-width="0.2">Brain - Anterior cingulate cortex (BA24)</text>
<line x1="146.93" y1="222" x2="146.93" y2="225.4" stroke="#000" stroke-width="1.1"/>
<text transform="translate(150.93 231.50) rotate(-45)" font-size="7.7" text-anchor="end" fill="#000" stroke="#000" stroke-width="0.2">Brain - Caudate (basal ganglia)</text>
<line x1="156.10" y1="222" x2="156.10" y2="225.4" stroke="#000" stroke-width="1.1"/>
<text transform="translate(160.10 231.50) rotate(-45)" font-size="7.7" text-anchor="end" fill="#000" stroke="#000" stroke-width="0.2">Brain - Cerebellar Hemisphere</text>
<line x1="165.27" y1="222" x2="165.27" y2="225.4" stroke="#000" stroke-width="1.1"/>
<text transform="translate(169.27 231.50) rotate(-45)" font-size="7.7" text-anchor="end" fill="#000" stroke="#000" stroke-width="0.2">Brain - Cerebellum</text>
<line x1="174.44" y1="222" x2="174.44" y2="225.4" stroke="#000" stroke-width="1.1"/>
<text transform="translate(178.44 231.50) rotate(-45)" font-size="7.7" text-anchor="end" fill="#000" stroke="#000" stroke-width="0.2">Brain - Cortex</text>
<line x1="183.61" y1="222" x2="183.61" y2="225.4" stroke="#000" stroke-width="1.1"/>
<text transform="translate(187.61 231.50) rotate(-45)" font-size="7.7" text-anchor="end" fill="#000" stroke="#000" stroke-width="0.2">Brain - Frontal Cortex (BA9)</text>
<line x1="192.78" y1="222" x2="192.78" y2="225.4" stroke="#000" stroke-width="1.1"/>
<text transform="translate(196.78 231.50) rotate(-45)" font-size="7.7" text-anchor="end" fill="#000" stroke="#000" stroke-width="0.2">Brain - Hippocampus</text>
<line x1="201.95" y1="222" x2="201.95" y2="225.4" stroke="#000" stroke-width="1.1"/>
<text transform="translate(205.95 231.50) rotate(-45)" font-size="7.7" text-anchor="end" fill="#000" stroke="#000" stroke-width="0.2">Brain - Hypothalamus</text>
<line x1="211.12" y1="222" x2="211.12" y2="225.4" stroke="#000" stroke-width="1.1"/>
<text transform="translate(215.12 231.50) rotate(-45)" font-size="7.7" text-anchor="end" fill="#000" stroke="#000" stroke-width="0.2">Brain - Nucleus accumbens (basal ganglia)</text>
<line x1="220.29" y1="222" x2="220.29" y2="225.4" stroke="#000" stroke-width="1.1"/>
<text transform="translate(224.29 231.50) rotate(-45)" font-size="7.7" text-anchor="end" fill="#000" stroke="#000" stroke-width="0.2">Brain - Putamen (basal ganglia)</text>
<line x1="229.46" y1="222" x2="229.46" y2="225.4" stroke="#000" stroke-width="1.1"/>
<text transform="translate(233.46 231.50) rotate(-45)" font-size="7.7" text-anchor="end" fill="#000" stroke="#000" stroke-width="0.2">Brain - Spinal cord (cervical c-1)</text>
<line x1="238.63" y1="222" x2="238.63" y2="225.4" stroke="#000" stroke-width="1.1"/>
<text transform="translate(242.63 231.50) rotate(-45)" font-size="7.7" text-anchor="end" fill="#000" stroke="#000" stroke-width="0.2">Brain - Substantia nigra</text>
<line x1="247.80" y1="222" x2="247.80" y2="225.4" stroke="#000" stroke-width="1.1"/>
<text transform="translate(251.80 231.50) rotate(-45)" font-size="7.7" text-anchor="end" fill="#000" stroke="#000" stroke-width="0.2">Breast - Mammary Tissue</text>
<line x1="256.97" y1="222" x2="256.97" y2="225.4" stroke="#000" stroke-width="1.1"/>
<text transform="translate(260.97 231.50) rotate(-45)" font-size="7.7" text-anchor="end" fill="#000" stroke="#000" stroke-width="0.2">Cells - EBV-transformed lymphocytes</text>
<line x1="266.14" y1="222" x2="266.14" y2="225.4" stroke="#000" stroke-width="1.1"/>
<text transform="translate(270.14 231.50) rotate(-45)" font-size="7.7" text-anchor="end" fill="#000" stroke="#000" stroke-width="0.2">Cells - Transformed fibroblasts</text>
<line x1="275.31" y1="222" x2="275.31" y2="225.4" stroke="#000" stroke-width="1.1"/>
<text transform="translate(279.31 231.50) rotate(-45)" font-size="7.7" text-anchor="end" fill="#000" stroke="#000" stroke-width="0.2">Cervix - Ectocervix</text>
<line x1="284.48" y1="222" x2="284.48" y2="225.4" stroke="#000" stroke-width="1.1"/>
<text transform="translate(288.48 231.50) rotate(-45)" font-size="7.7" text-anchor="end" fill="#000" stroke="#000" stroke-width="0.2">Cervix - Endocervix</text>
<line x1="293.65" y1="222" x2="293.65" y2="225.4" stroke="#000" stroke-width="1.1"/>
<text transform="translate(297.65 231.50) rotate(-45)" font-size="7.7" text-anchor="end" fill="#000" stroke="#000" stroke-width="0.2">Colon - Sigmoid</text>
<line x1="302.82" y1="222" x2="302.82" y2="225.4" stroke="#000" stroke-width="1.1"/>
<text transform="translate(306.82 231.50) rotate(-45)" font-size="7.7" text-anchor="end" fill="#000" stroke="#000" stroke-width="0.2">Colon - Transverse</text>
<line x1="311.99" y1="222" x2="311.99" y2="225.4" stroke="#000" stroke-width="1.1"/>
<text transform="translate(315.99 231.50) rotate(-45)" font-size="7.7" text-anchor="end" fill="#000" stroke="#000" stroke-width="0.2">Esophagus - Gastroesophageal Junction</text>
<line x1="321.16" y1="222" x2="321.16" y2="225.4" stroke="#000" stroke-width="1.1"/>
<text transform="translate(325.16 231.50) rotate(-45)" font-size="7.7" text-anchor="end" fill="#000" stroke="#000" stroke-width="0.2">Esophagus - Mucosa</text>
<line x1="330.33" y1="222" x2="330.33" y2="225.4" stroke="#000" stroke-width="1.1"/>
<text transform="translate(334.33 231.50) rotate(-45)" font-size="7.7" text-anchor="end" fill="#000" stroke="#000" stroke-width="0.2">Esophagus - Muscularis</text>
<line x1="339.50" y1="222" x2="339.50" y2="225.4" stroke="#000" stroke-width="1.1"/>
<text transform="translate(343.50 231.50) rotate(-45)" font-size="7.7" text-anchor="end" fill="#000" stroke="#000" stroke-width="0.2">Fallopian Tube</text>
<line x1="348.67" y1="222" x2="348.67" y2="225.4" stroke="#000" stroke-width="1.1"/>
<text transform="translate(352.67 231.50) rotate(-45)" font-size="7.7" text-anchor="end" fill="#000" stroke="#000" stroke-width="0.2">Heart - Atrial Appendage</text>
<line x1="357.84" y1="222" x2="357.84" y2="225.4" stroke="#000" stroke-width="1.1"/>
<text transform="translate(361.84 231.50) rotate(-45)" font-size="7.7" text-anchor="end" fill="#000" stroke="#000" stroke-width="0.2">Heart - Left Ventricle</text>
<line x1="367.01" y1="222" x2="367.01" y2="225.4" stroke="#000" stroke-width="1.1"/>
<text transform="translate(371.01 231.50) rotate(-45)" font-size="7.7" text-anchor="end" fill="#000" stroke="#000" stroke-width="0.2">Kidney - Cortex</text>
<line x1="376.18" y1="222" x2="376.18" y2="225.4" stroke="#000" stroke-width="1.1"/>
<text transform="translate(380.18 231.50) rotate(-45)" font-size="7.7" text-anchor="end" fill="#000" stroke="#000" stroke-width="0.2">Liver</text>
<line x1="385.35" y1="222" x2="385.35" y2="225.4" stroke="#000" stroke-width="1.1"/>
<text transform="translate(389.35 231.50) rotate(-45)" font-size="7.7" text-anchor="end" fill="#000" stroke="#000" stroke-width="0.2">Lung</text>
<line x1="394.52" y1="222" x2="394.52" y2="225.4" stroke="#000" stroke-width="1.1"/>
<text transform="translate(398.52 231.50) rotate(-45)" font-size="7.7" text-anchor="end" fill="#000" stroke="#000" stroke-width="0.2">Minor Salivary Gland</text>
<line x1="403.69" y1="222" x2="403.69" y2="225.4" stroke="#000" stroke-width="1.1"/>
<text transform="translate(407.69 231.50) rotate(-45)" font-size="7.7" text-anchor="end" fill="#000" stroke="#000" stroke-width="0.2">Muscle - Skeletal</text>
<line x1="412.86" y1="222" x2="412.86" y2="225.4" stroke="#000" stroke-width="1.1"/>
<text transform="translate(416.86 231.50) rotate(-45)" font-size="7.7" text-anchor="end" fill="#000" stroke="#000" stroke-width="0.2">Nerve - Tibial</text>
<line x1="422.03" y1="222" x2="422.03" y2="225.4" stroke="#000" stroke-width="1.1"/>
<text transform="translate(426.03 231.50) rotate(-45)" font-size="7.7" text-anchor="end" fill="#000" stroke="#000" stroke-width="0.2">Ovary</text>
<line x1="431.20" y1="222" x2="431.20" y2="225.4" stroke="#000" stroke-width="1.1"/>
<text transform="translate(435.20 231.50) rotate(-45)" font-size="7.7" text-anchor="end" fill="#000" stroke="#000" stroke-width="0.2">Pancreas</text>
<line x1="440.37" y1="222" x2="440.37" y2="225.4" stroke="#000" stroke-width="1.1"/>
<text transform="translate(444.37 231.50) rotate(-45)" font-size="7.7" text-anchor="end" fill="#000" stroke="#000" stroke-width="0.2">Pituitary</text>
<line x1="449.54" y1="222" x2="449.54" y2="225.4" stroke="#000" stroke-width="1.1"/>
<text transform="translate(453.54 231.50) rotate(-45)" font-size="7.7" text-anchor="end" fill="#000" stroke="#000" stroke-width="0.2">Prostate</text>
<line x1="458.71" y1="222" x2="458.71" y2="225.4" stroke="#000" stroke-width="1.1"/>
<text transform="translate(462.71 231.50) rotate(-45)" font-size="7.7" text-anchor="end" fill="#000" stroke="#000" stroke-width="0.2">Skin - Not Sun Exposed (Suprapubic)</text>
<line x1="467.88" y1="222" x2="467.88" y2="225.4" stroke="#000" stroke-width="1.1"/>
<text transform="translate(471.88 231.50) rotate(-45)" font-size="7.7" text-anchor="end" fill="#000" stroke="#000" stroke-width="0.2">Skin - Sun Exposed (Lower leg)</text>
<line x1="477.05" y1="222" x2="477.05" y2="225.4" stroke="#000" stroke-width="1.1"/>
<text transform="translate(481.05 231.50) rotate(-45)" font-size="7.7" text-anchor="end" fill="#000" stroke="#000" stroke-width="0.2">Small Intestine - Terminal Ileum</text>
<line x1="486.22" y1="222" x2="486.22" y2="225.4" stroke="#000" stroke-width="1.1"/>
<text transform="translate(490.22 231.50) rotate(-45)" font-size="7.7" text-anchor="end" fill="#000" stroke="#000" stroke-width="0.2">Spleen</text>
<line x1="495.39" y1="222" x2="495.39" y2="225.4" stroke="#000" stroke-width="1.1"/>
<text transform="translate(499.39 231.50) rotate(-45)" font-size="7.7" text-anchor="end" fill="#000" stroke="#000" stroke-width="0.2">Stomach</text>
<line x1="504.56" y1="222" x2="504.56" y2="225.4" stroke="#000" stroke-width="1.1"/>
<text transform="translate(508.56 231.50) rotate(-45)" font-size="7.7" text-anchor="end" fill="#000" stroke="#000" stroke-width="0.2">Testis</text>
<line x1="513.73" y1="222" x2="513.73" y2="225.4" stroke="#000" stroke-width="1.1"/>
<text transform="translate(517.73 231.50) rotate(-45)" font-size="7.7" text-anchor="end" fill="#000" stroke="#000" stroke-width="0.2">Thyroid</text>
<line x1="522.90" y1="222" x2="522.90" y2="225.4" stroke="#000" stroke-width="1.1"/>
<text transform="translate(526.90 231.50) rotate(-45)" font-size="7.7" text-anchor="end" fill="#000" stroke="#000" stroke-width="0.2">Uterus</text>
<line x1="532.07" y1="222" x2="532.07" y2="225.4" stroke="#000" stroke-width="1.1"/>
<text transform="translate(536.07 231.50) rotate(-45)" font-size="7.7" text-anchor="end" fill="#000" stroke="#000" stroke-width="0.2">Vagina</text>
<line x1="541.24" y1="222" x2="541.24" y2="225.4" stroke="#000" stroke-width="1.1"/>
<text transform="translate(545.24 231.50) rotate(-45)" font-size="7.7" text-anchor="end" fill="#000" stroke="#000" stroke-width="0.2">Whole Blood</text>
</g>
<text transform="translate(32.3 104.6) rotate(-90)" font-size="7.8" text-anchor="middle" fill="#111" stroke="#111" stroke-width="0.12" style="font-family:'Liberation Serif','Times New Roman',serif">TPM</text>
</svg></body></html>
